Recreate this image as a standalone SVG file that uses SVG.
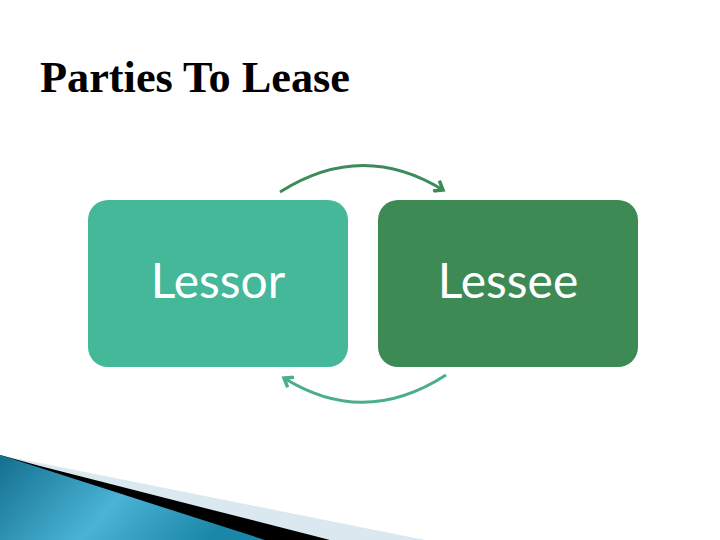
<svg xmlns="http://www.w3.org/2000/svg" width="720" height="540" viewBox="0 0 720 540">
<style>
.title{font-family:"Liberation Serif","Times New Roman",serif;font-weight:bold;font-size:44px;fill:#000}
.lbl{font-family:"Lato","Noto Sans",sans-serif;font-size:48px;fill:#ffffff;text-anchor:middle}
.arc{fill:none;stroke-width:3}
</style>
<defs>
<linearGradient id="blue" x1="0" y1="0" x2="1" y2="0.3">
<stop offset="0" stop-color="#136f8e"/>
<stop offset="0.55" stop-color="#4ab3d6"/>
<stop offset="1" stop-color="#1a86a8"/>
</linearGradient>
<marker id="ahTop" markerWidth="14" markerHeight="14" refX="9" refY="7" orient="auto" markerUnits="userSpaceOnUse"><path d="M1,1 L9,7 L1,13" fill="none" stroke="#3d8a5a" stroke-width="3.5"/></marker>
<marker id="ahBot" markerWidth="14" markerHeight="14" refX="9" refY="7" orient="auto" markerUnits="userSpaceOnUse"><path d="M1,1 L9,7 L1,13" fill="none" stroke="#4aae8e" stroke-width="3.5"/></marker>
</defs>
<rect width="720" height="540" fill="#ffffff"/>
<g id="decoration">
<polygon points="0,455 425,540 0,540" fill="#d9e9ef"/>
<polygon points="0,455 40,466 330,540 0,540" fill="#000000"/>
<polygon points="0,455 265,540 0,540" fill="url(#blue)"/>
</g>
<text class="title" x="40" y="92" textLength="310" lengthAdjust="spacingAndGlyphs">Parties To Lease</text>
<g id="connectors">
<path class="arc" d="M280,192 Q362,140 443,190" stroke="#3d8a5a" marker-end="url(#ahTop)"/>
<path class="arc" d="M446,375 Q364,428 284,378" stroke="#4aae8e" marker-end="url(#ahBot)"/>
</g>
<g id="lessor">
<rect x="88" y="200" width="260" height="167" rx="20" fill="#44b898"/>
<text class="lbl" x="218" y="298">Lessor</text>
</g>
<g id="lessee">
<rect x="378" y="200" width="260" height="167" rx="20" fill="#3d8a55"/>
<text class="lbl" x="508" y="298">Lessee</text>
</g>
</svg>
